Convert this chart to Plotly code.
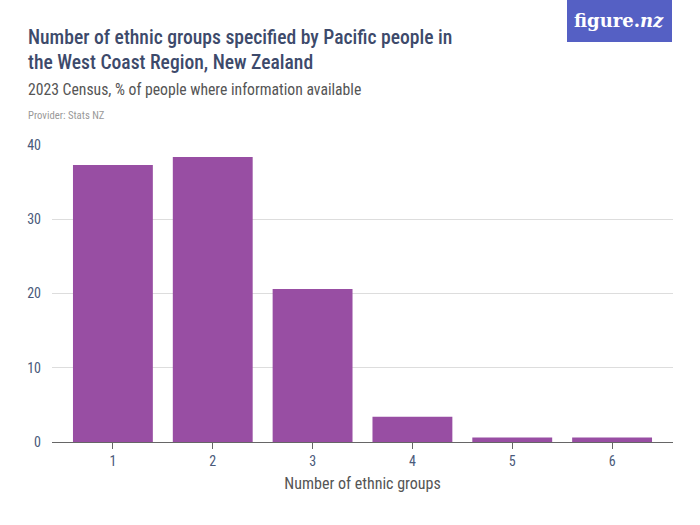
import plotly.graph_objects as go

categories = [1, 2, 3, 4, 5, 6]
values = [37.3, 38.4, 20.6, 3.4, 0.6, 0.6]
y_ticks = [0, 10, 20, 30, 40]

FONT = "Roboto Condensed, DejaVu Sans Condensed, Roboto, sans-serif"

fig = go.Figure(go.Bar(
    x=categories, y=values,
    marker=dict(color="#984ea3", line=dict(width=0)),
    width=0.8,
))

fig.update_layout(
    width=700, height=525,
    margin=dict(l=52, r=27, t=145, b=83),
    paper_bgcolor="white", plot_bgcolor="white",
    showlegend=False,
    font=dict(family=FONT, color="#4a5a7a"),
    xaxis=dict(
        range=[0.39, 6.61], tickmode="array", tickvals=categories,
        ticktext=[str(c) for c in categories],
        showline=True, linecolor="#666666", linewidth=1,
        ticks="outside", ticklen=6, tickcolor="#666666",
        showgrid=False, zeroline=False,
        tickfont=dict(size=14, color="#4a5a7a"),
        title=dict(text="Number of ethnic groups", font=dict(size=16, color="#555555"), standoff=10),
    ),
    yaxis=dict(
        range=[0, 40], tickvals=y_ticks,
        showgrid=True, gridcolor="#dddddd", gridwidth=1,
        zeroline=False, showline=False,
        tickfont=dict(size=14, color="#4a5a7a"),
        ticks="", ticklabelstandoff=10,
    ),
)

annots = [
    dict(text="Number of ethnic groups specified by Pacific people in<br>the West Coast Region, New Zealand",
         x=26, y=24, size=19.6, color="#3d4a6b", weight=500),
    dict(text="2023 Census, % of people where information available", x=26, y=78, size=15.7, color="#555555", weight=400),
    dict(text="Provider: Stats NZ", x=26, y=107, size=10.7, color="#999999", weight=400),
]
for a in annots:
    fig.add_annotation(
        text=a["text"], xref="paper", yref="paper",
        x=(a["x"] - 52) / 621, y=1 + (145 - a["y"]) / 297,
        xanchor="left", yanchor="top", showarrow=False, align="left",
        font=dict(size=a["size"], color=a["color"], family=FONT, weight=a["weight"]),
    )

# logo
fig.add_shape(type="rect", xref="paper", yref="paper",
              x0=(567 - 52) / 621, x1=(672 - 52) / 621,
              y0=1 + (145 - 42) / 297, y1=1 + 145 / 297,
              fillcolor="#5560c4", line=dict(width=0), layer="above")
fig.add_annotation(text="<b>figure.<i>nz</i></b>", xref="paper", yref="paper",
                   x=(619 - 52) / 621, y=1 + (145 - 20) / 297,
                   xanchor="center", yanchor="middle", showarrow=False,
                   font=dict(size=18, color="white", family="DejaVu Serif, serif"))

fig.write_html("out.html")
